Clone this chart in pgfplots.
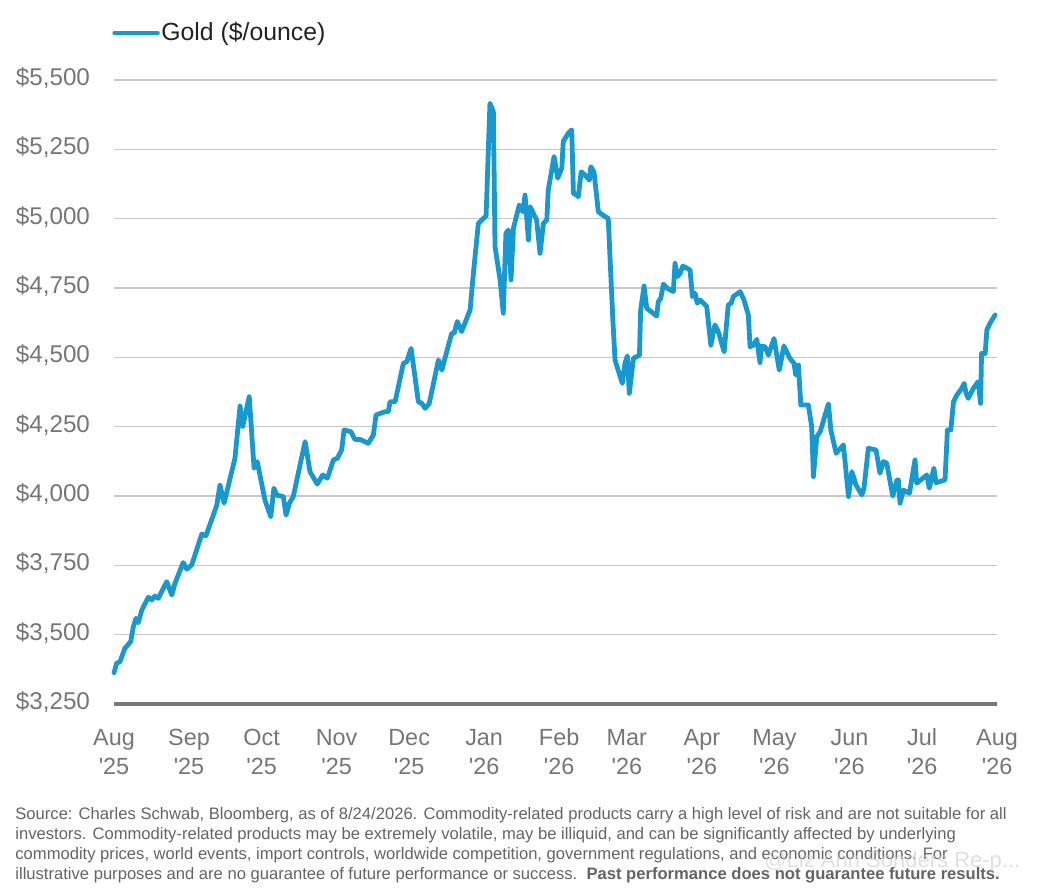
\documentclass[border=0pt]{standalone}
\usepackage{fontspec}
\setmainfont{Liberation Sans}
\usepackage{pgfplots}
\usepackage{pgfplotstable}
\pgfplotsset{compat=1.18}
\definecolor{goldblue}{RGB}{22,152,208}
\definecolor{tickgray}{RGB}{118,118,118}
\definecolor{gridgray}{RGB}{200,200,200}
\definecolor{axgray}{RGB}{120,120,120}
\definecolor{footgray}{RGB}{100,100,100}
\definecolor{legtext}{RGB}{35,35,35}

\pgfplotstableread{
d v
0 3363
1.1 3397
2.5 3403
4.5 3451
6.9 3475
8.0 3529
9.1 3559
10.0 3543
11.5 3589
14.2 3635
15.6 3625
16.9 3639
18.3 3631
21.8 3691
23.9 3643
25.2 3685
28.6 3760
30.1 3736
32.1 3751
36.3 3863
38.0 3856
42.5 3967
43.8 4040
45.5 3974
50.0 4136
52.1 4324
53.2 4250
55.9 4358
57.9 4100
59.2 4124
62.4 3985
64.8 3925
66.1 4028
67.3 4003
70.0 3998
71.1 3931
72.5 3974
74.1 3998
76.9 4112
79.0 4196
81.0 4088
84.0 4043
86.3 4076
88.2 4064
90.7 4130
92.3 4136
94.1 4166
95.1 4238
97.9 4232
99.6 4204
101.7 4204
105.1 4190
107.2 4220
108.3 4292
112.0 4304
113.4 4304
114.1 4340
116.2 4340
119.6 4478
121.0 4484
122.8 4532
125.8 4340
127.2 4334
128.6 4316
130.3 4334
134.1 4490
135.5 4454
139.6 4587
140.6 4587
141.9 4629
143.7 4593
147.2 4671
148.3 4779
150.6 4983
152.0 4995
153.8 5010
155.4 5416
156.8 5386
157.5 4899
159.6 4779
160.9 4659
162.0 4947
163.0 4959
164.1 4779
165.1 4965
167.5 5049
169.0 5025
169.9 5085
171.3 4923
172.0 5043
174.7 4995
176.1 4875
177.5 4983
178.9 4995
179.5 5103
181.9 5224
183.4 5146
185.1 5182
185.7 5278
187.8 5308
189.2 5320
189.9 5091
191.3 5085
191.9 5079
193.1 5169
194.7 5157
196.5 5139
197.1 5187
198.4 5169
200.2 5025
202.0 5013
204.3 5001
206.2 4635
207.1 4490
210.1 4406
211.2 4478
212.2 4505
213.0 4370
214.7 4496
217.2 4508
217.7 4671
219.1 4757
220.2 4677
224.3 4649
225.0 4701
226.0 4713
227.1 4764
228.7 4749
231.2 4737
231.9 4839
232.9 4791
234.0 4803
235.1 4829
238.1 4815
239.1 4719
240.2 4731
241.1 4695
242.3 4707
245.0 4683
246.7 4544
248.4 4617
249.8 4592
252.2 4520
253.9 4689
255.1 4695
256.0 4719
258.8 4737
260.4 4707
262.2 4653
262.9 4538
264.3 4544
265.7 4565
267.0 4481
267.7 4541
269.1 4538
270.5 4508
272.8 4568
275.0 4454
276.9 4541
279.4 4496
281.1 4478
281.8 4436
282.9 4472
283.9 4328
287.0 4328
288.4 4250
289.1 4070
290.5 4214
291.9 4232
295.3 4332
296.3 4238
298.5 4154
301.5 4184
303.6 3998
305.0 4088
306.7 4040
309.1 4004
310.0 4028
311.8 4172
315.0 4166
316.6 4082
318.0 4124
319.4 4118
321.9 4000
323.6 4058
324.2 4058
324.9 3974
326.3 4021
328.8 4010
331.1 4130
331.8 4046
336.0 4076
337.0 4028
338.9 4100
339.8 4048
343.5 4058
344.5 4238
345.9 4238
347.0 4340
348.4 4364
350.4 4388
351.4 4406
352.2 4370
353.1 4352
355.2 4388
357.2 4412
358.2 4334
358.6 4514
360.1 4514
360.8 4599
362.1 4623
364.2 4653
}\golddata

\begin{document}
\begin{tikzpicture}
\useasboundingbox (0,0) rectangle (526pt,446.5pt);
\begin{axis}[
  at={(57pt,94.5pt)}, anchor=south west,
  scale only axis, width=441.5pt, height=312pt,
  xmin=0, xmax=365, ymin=3250, ymax=5500,
  axis line style={draw=none},
  major tick length=0pt,
  xtick={0,31,61,92,122,153,184,212,243,273,304,334,365},
  xticklabels={{Aug\\\textquotesingle25},{Sep\\\textquotesingle25},{Oct\\\textquotesingle25},{Nov\\\textquotesingle25},{Dec\\\textquotesingle25},{Jan\\\textquotesingle26},{Feb\\\textquotesingle26},{Mar\\\textquotesingle26},{Apr\\\textquotesingle26},{May\\\textquotesingle26},{Jun\\\textquotesingle26},{Jul\\\textquotesingle26},{Aug\\\textquotesingle26}},
  typeset ticklabels with strut,
  x tick label style={align=center, font=\fontsize{11.7}{14.5}\selectfont, text=tickgray, yshift=-7pt},
  ytick={3250,3500,3750,4000,4250,4500,4750,5000,5250,5500},
  yticklabels={{\$3,250},{\$3,500},{\$3,750},{\$4,000},{\$4,250},{\$4,500},{\$4,750},{\$5,000},{\$5,250},{\$5,500}},
  y tick label style={font=\fontsize{12.1}{14}\selectfont, text=tickgray, xshift=-8.5pt},
  ymajorgrids, grid style={gridgray, line width=0.6pt},
  clip=false,
  legend style={at={(axis description cs:0,1)}, anchor=west, xshift=-1pt, yshift=23.5pt,
    draw=none, fill=none, font=\fontsize{12.4}{14}\selectfont, text=legtext, inner sep=0pt,
    nodes={inner sep=0.8pt}},
  legend image code/.code={\draw[#1, line width=2.2pt] (0pt,0pt) -- (21.5pt,0pt);},
  legend cell align=left,
]
\addplot[goldblue, line width=2.4pt, line join=round, line cap=round] table[x=d, y=v] {\golddata};
\addlegendentry{Gold (\$/ounce)}
\draw[axgray, line width=1.6pt] (axis cs:0,3250) -- (axis cs:365,3250);
\end{axis}
\node[anchor=north west, inner sep=0pt, align=left, text=footgray,
  font=\fontsize{8.3}{10}\selectfont] at (7.5pt,43pt) {Source: Charles Schwab, Bloomberg, as of 8/24/2026. Commodity-related products carry a high level of risk and are not suitable for all\\
investors. Commodity-related products may be extremely volatile, may be illiquid, and can be significantly affected by underlying\\
commodity prices, world events, import controls, worldwide competition, government regulations, and economic conditions. For\\
illustrative purposes and are no guarantee of future performance or success.\ \ \textbf{Past performance does not guarantee future results.}};
\node[anchor=west, inner sep=0pt, text=gray!40, opacity=0.6, font=\fontsize{11}{12}\selectfont] at (382pt,15.5pt) {@Liz Ann Sonders Re-p...};
\end{tikzpicture}
\end{document}
